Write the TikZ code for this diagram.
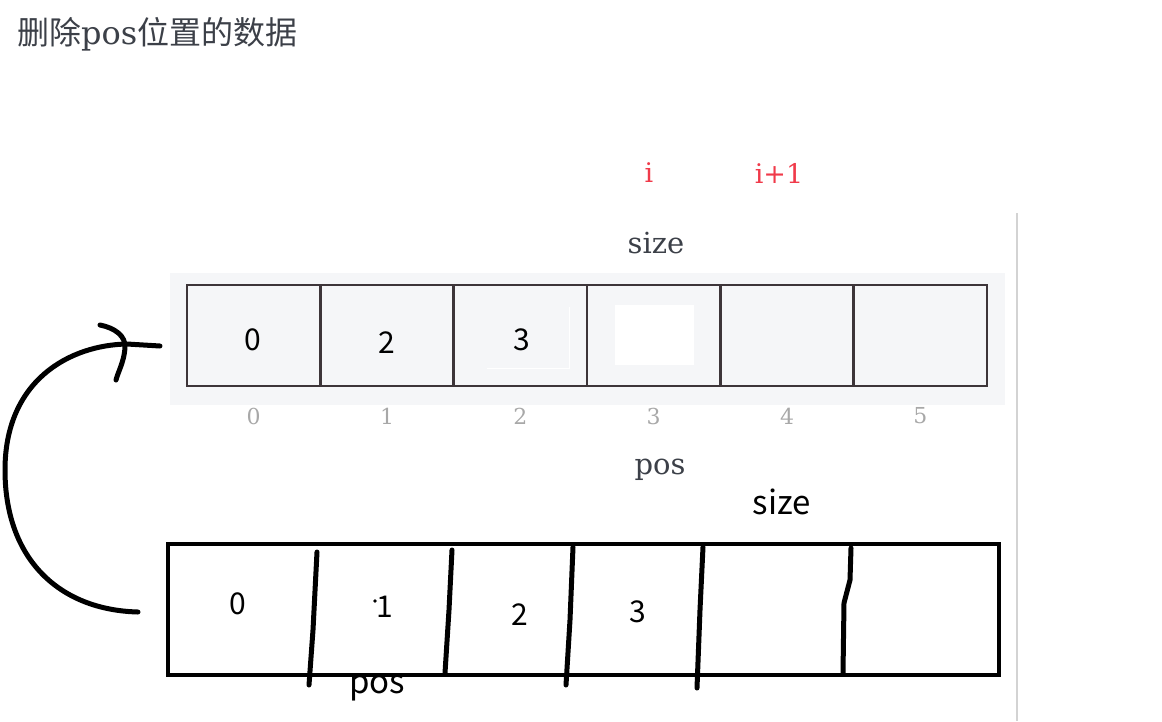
\documentclass[tikz,border=0pt]{standalone}
\usepackage{fontspec}
\setmainfont{DejaVu Serif}
\newfontfamily\cjk{Noto Sans CJK SC}
\usetikzlibrary{positioning}
\definecolor{boxline}{HTML}{3D3539}
\definecolor{panel}{HTML}{F5F6F8}
\definecolor{idxgray}{HTML}{A8A8A8}
\definecolor{textgray}{HTML}{3C4048}
\definecolor{hint}{HTML}{F03A4A}

\begin{document}
\begin{tikzpicture}[x=1pt, y=-1pt, node distance={133.33pt},
  cell/.style = {draw=boxline, line width=2.5pt, minimum width=133.33pt, minimum height=101pt, inner sep=0pt},
  num/.style = {font=\cjk\fontsize{30}{34}\selectfont, inner sep=0pt},
  word/.style = {font=\cjk\fontsize{33}{38}\selectfont, inner sep=0pt},
  idx/.style = {font=\fontsize{22}{26}\selectfont, text=idxgray, inner sep=0pt},
  note/.style = {font=\fontsize{29}{34}\selectfont, text=textgray, inner sep=0pt},
  redtext/.style = {font=\fontsize{27}{32}\selectfont, text=hint, inner sep=0pt},
  slot/.style = {draw, line width=4.5pt, inner sep=0pt},
  bar/.style = {line width=5pt, line cap=round},
  hand/.style = {line width=5pt, line cap=round, line join=round}]
\useasboundingbox (0,0) rectangle (1162,721);

\node[anchor=west, inner sep=0pt, text=textgray, font=\fontsize{32}{36}\selectfont] (title) at (17,34) {{\cjk 删除}pos{\cjk 位置的数据}};

% labels above
\node[redtext] (ri) at (649,173) {i};
\node[redtext] (ri1) at (779,173) {i+1};
\node[note] (sz1) at (656,243) {size};

% first array
\fill[panel] (170,273) rectangle (1005,405);
\node[cell] (c0) at (253.67,335.5) {};
\node[cell] (c1) [right of=c0] {};
\node[cell] (c2) [right of=c1] {};
\node[cell] (c3) [right of=c2] {};
\node[cell] (c4) [right of=c3] {};
\node[cell] (c5) [right of=c4] {};
\fill[white] (615,305) rectangle (694,365);
\draw[white, line width=1pt] (487,368) -- (569,368) -- (569,307);
\node[num] (v0) at (253,340) {0};
\node[num] (v1) at (387,343) {2};
\node[num] (v2) at (522,340) {3};
\foreach \k in {0,...,5}
  \node[idx] (i\k) at ({253.67+133.33*\k},416) {\k};

\draw[idxgray!50, line width=1.5pt] (1017,213) -- (1017,721);

\node[note] (p1) at (660,470) {pos};
\node[word] (sz2) at (782,502) {size};

% second array
\node[slot, minimum width=831pt, minimum height=131pt] (arr) at (583.5,609.5) {};
\draw[bar] (317,552) -- (313,630) -- (309,685);
\draw[bar] (452,550) -- (449,610) -- (445,673);
\draw[bar] (573,547) -- (570,620) -- (566,685);
\draw[bar] (703,547) -- (700,610) -- (697,688);
\draw[bar] (851,548) -- (850,580) -- (844,603) -- (843,673);
\node[num] (w0) at (238,604) {0};
\node[num] (w1) at (385,607) {1};
\fill (375,601) circle (1.8);
\node[num] (w2) at (520,615) {2};
\node[num] (w3) at (638,612) {3};
\node[word] (p2) at (377,688) {pos};

% hand drawn arrow
\coordinate (back) at (138,612);
\coordinate (tip) at (160,346);
\draw[hand] (back) .. controls (60,610) and (5,560) .. (5,470) .. controls (5,380) and (70,345) .. (127,344) -- (tip);
\draw[hand] (100,325) .. controls (115,328) and (126,336) .. (125,348) .. controls (124,362) and (118,372) .. (116,380);
\end{tikzpicture}
\end{document}
